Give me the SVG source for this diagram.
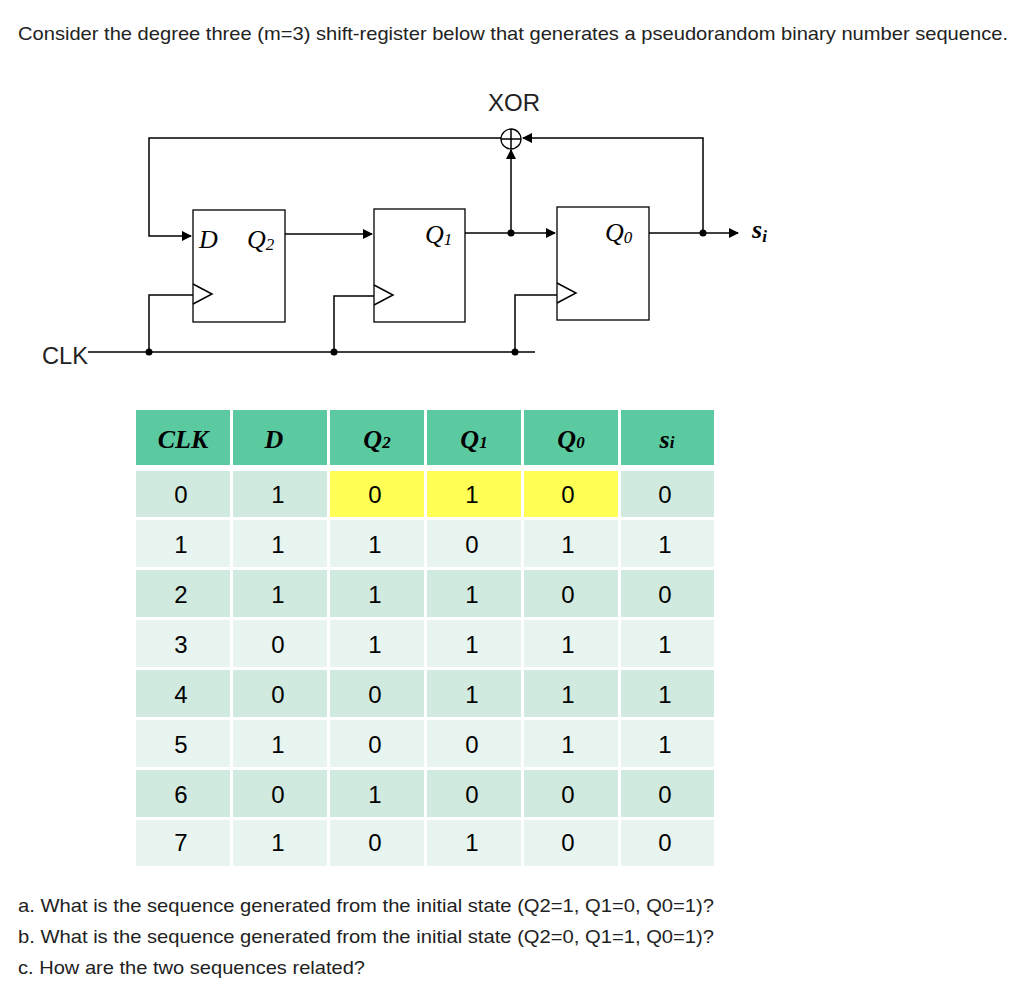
<svg xmlns="http://www.w3.org/2000/svg" width="1024" height="982" viewBox="0 0 1024 982">
<defs>
<marker id="ar" markerWidth="10" markerHeight="10" refX="9" refY="5" orient="auto" markerUnits="userSpaceOnUse"><path d="M0,0 L10,5 L0,10 z" fill="#000"/></marker>
<style>
.t{font-family:"Liberation Sans",Arial,sans-serif;fill:#222;font-size:19px}
.w{stroke:#000;stroke-width:1.5;fill:none}
.b{stroke:#000;stroke-width:1.3;fill:#fff}
.lbl{font-family:"Liberation Serif","Times New Roman",serif;font-style:italic;font-size:26px;fill:#000}
.h{fill:#5ccaa0}.r1{fill:#d1eadf}.r2{fill:#e8f4ef}.y{fill:#ffff55}
.ht{font-family:"Liberation Serif",serif;font-weight:bold;font-style:italic;font-size:26px;text-anchor:middle}
.c{font-family:"Liberation Sans",Arial,sans-serif;font-size:24px;text-anchor:middle}
</style>
</defs>
<rect width="1024" height="982" fill="#fff"/>
<text class="t" x="18" y="40" textLength="990" lengthAdjust="spacingAndGlyphs">Consider the degree three (m=3) shift-register below that generates a pseudorandom binary number sequence.</text>
<g id="connectors">
<polyline class="w" points="501,138 149,138 149,236 191,236" marker-end="url(#ar)"/>
<polyline class="w" points="703,233 703,138 523,138" marker-end="url(#ar)"/>
<line class="w" x1="285" y1="234" x2="372" y2="234" marker-end="url(#ar)"/>
<line class="w" x1="465" y1="233" x2="555" y2="233" marker-end="url(#ar)"/>
<line class="w" x1="511" y1="233" x2="511" y2="150" marker-end="url(#ar)"/>
<line class="w" x1="649" y1="233" x2="738" y2="233" marker-end="url(#ar)"/>
<line class="w" x1="88" y1="352" x2="535" y2="352"/>
<polyline class="w" points="149,352 149,295 193,295"/>
<polyline class="w" points="334,352 334,296 374,296"/>
<polyline class="w" points="515,352 515,295 557,295"/>
<g fill="#000"><circle cx="511" cy="233" r="3.5"/><circle cx="703" cy="233" r="3.5"/><circle cx="149" cy="352" r="3.5"/><circle cx="334" cy="352" r="3.5"/><circle cx="515" cy="352" r="3.5"/></g>
</g>
<g id="xor"><circle class="b" cx="511" cy="139" r="10"/><line class="w" x1="501" y1="139" x2="521" y2="139"/><line class="w" x1="511" y1="129" x2="511" y2="149"/>
<text x="514" y="111" text-anchor="middle" font-family="Liberation Sans,Arial,sans-serif" font-size="24" fill="#222" textLength="52" lengthAdjust="spacingAndGlyphs">XOR</text></g>
<g id="ff2"><rect class="b" x="193" y="210" width="92" height="112"/><path class="w" d="M193,284 L212,294 L193,304"/><text class="lbl" x="199" y="248">D</text><text class="lbl" x="247" y="248">Q<tspan font-size="17" dy="2">2</tspan></text></g>
<g id="ff1"><rect class="b" x="374" y="209" width="91" height="113"/><path class="w" d="M374,285 L393,295 L374,305"/><text class="lbl" x="425" y="243">Q<tspan font-size="17" dy="2">1</tspan></text></g>
<g id="ff0"><rect class="b" x="557" y="207" width="92" height="113"/><path class="w" d="M557,283 L576,293 L557,303"/><text class="lbl" x="605" y="241">Q<tspan font-size="17" dy="2">0</tspan></text></g>
<text class="lbl" x="752" y="238" font-weight="bold">s<tspan font-size="17" dy="4">i</tspan></text>
<text x="42" y="364" font-family="Liberation Sans,Arial,sans-serif" font-size="23" fill="#222" textLength="46" lengthAdjust="spacingAndGlyphs">CLK</text>
<g id="table">
<g class="h"><rect x="136" y="410" width="94" height="55"/><rect x="233" y="410" width="94" height="55"/><rect x="330" y="410" width="94" height="55"/><rect x="427" y="410" width="94" height="55"/><rect x="524" y="410" width="94" height="55"/><rect x="621" y="410" width="93" height="55"/></g>
<text class="ht" x="183" y="448">CLK</text><text class="ht" x="274" y="448">D</text><text class="ht" x="377" y="448">Q<tspan font-size="17">2</tspan></text><text class="ht" x="474" y="448">Q<tspan font-size="17">1</tspan></text><text class="ht" x="571" y="448">Q<tspan font-size="17">0</tspan></text><text class="ht" x="667" y="448">s<tspan font-size="17">i</tspan></text>
<rect class="r1" x="136" y="471" width="94" height="46"/><rect class="r1" x="233" y="471" width="94" height="46"/><rect class="y" x="330" y="471" width="94" height="46"/><rect class="y" x="427" y="471" width="94" height="46"/><rect class="y" x="524" y="471" width="94" height="46"/><rect class="r1" x="621" y="471" width="93" height="46"/>
<g class="r2"><rect x="136" y="520" width="94" height="47"/><rect x="233" y="520" width="94" height="47"/><rect x="330" y="520" width="94" height="47"/><rect x="427" y="520" width="94" height="47"/><rect x="524" y="520" width="94" height="47"/><rect x="621" y="520" width="93" height="47"/></g>
<g class="r1"><rect x="136" y="570" width="94" height="47"/><rect x="233" y="570" width="94" height="47"/><rect x="330" y="570" width="94" height="47"/><rect x="427" y="570" width="94" height="47"/><rect x="524" y="570" width="94" height="47"/><rect x="621" y="570" width="93" height="47"/></g>
<g class="r2"><rect x="136" y="620" width="94" height="47"/><rect x="233" y="620" width="94" height="47"/><rect x="330" y="620" width="94" height="47"/><rect x="427" y="620" width="94" height="47"/><rect x="524" y="620" width="94" height="47"/><rect x="621" y="620" width="93" height="47"/></g>
<g class="r1"><rect x="136" y="670" width="94" height="47"/><rect x="233" y="670" width="94" height="47"/><rect x="330" y="670" width="94" height="47"/><rect x="427" y="670" width="94" height="47"/><rect x="524" y="670" width="94" height="47"/><rect x="621" y="670" width="93" height="47"/></g>
<g class="r2"><rect x="136" y="720" width="94" height="47"/><rect x="233" y="720" width="94" height="47"/><rect x="330" y="720" width="94" height="47"/><rect x="427" y="720" width="94" height="47"/><rect x="524" y="720" width="94" height="47"/><rect x="621" y="720" width="93" height="47"/></g>
<g class="r1"><rect x="136" y="770" width="94" height="47"/><rect x="233" y="770" width="94" height="47"/><rect x="330" y="770" width="94" height="47"/><rect x="427" y="770" width="94" height="47"/><rect x="524" y="770" width="94" height="47"/><rect x="621" y="770" width="93" height="47"/></g>
<g class="r2"><rect x="136" y="820" width="94" height="46"/><rect x="233" y="820" width="94" height="46"/><rect x="330" y="820" width="94" height="46"/><rect x="427" y="820" width="94" height="46"/><rect x="524" y="820" width="94" height="46"/><rect x="621" y="820" width="93" height="46"/></g>
<g class="c">
<text x="181" y="503">0</text><text x="278" y="503">1</text><text x="375" y="503">0</text><text x="472" y="503">1</text><text x="568" y="503">0</text><text x="665" y="503">0</text>
<text x="181" y="553">1</text><text x="278" y="553">1</text><text x="375" y="553">1</text><text x="472" y="553">0</text><text x="568" y="553">1</text><text x="665" y="553">1</text>
<text x="181" y="603">2</text><text x="278" y="603">1</text><text x="375" y="603">1</text><text x="472" y="603">1</text><text x="568" y="603">0</text><text x="665" y="603">0</text>
<text x="181" y="653">3</text><text x="278" y="653">0</text><text x="375" y="653">1</text><text x="472" y="653">1</text><text x="568" y="653">1</text><text x="665" y="653">1</text>
<text x="181" y="703">4</text><text x="278" y="703">0</text><text x="375" y="703">0</text><text x="472" y="703">1</text><text x="568" y="703">1</text><text x="665" y="703">1</text>
<text x="181" y="753">5</text><text x="278" y="753">1</text><text x="375" y="753">0</text><text x="472" y="753">0</text><text x="568" y="753">1</text><text x="665" y="753">1</text>
<text x="181" y="803">6</text><text x="278" y="803">0</text><text x="375" y="803">1</text><text x="472" y="803">0</text><text x="568" y="803">0</text><text x="665" y="803">0</text>
<text x="181" y="851">7</text><text x="278" y="851">1</text><text x="375" y="851">0</text><text x="472" y="851">1</text><text x="568" y="851">0</text><text x="665" y="851">0</text>
</g>
</g>
<text class="t" x="18" y="912" textLength="696" lengthAdjust="spacingAndGlyphs">a. What is the sequence generated from the initial state (Q2=1, Q1=0, Q0=1)?</text>
<text class="t" x="18" y="943" textLength="696" lengthAdjust="spacingAndGlyphs">b. What is the sequence generated from the initial state (Q2=0, Q1=1, Q0=1)?</text>
<text class="t" x="18" y="974" textLength="347" lengthAdjust="spacingAndGlyphs">c. How are the two sequences related?</text>
</svg>
